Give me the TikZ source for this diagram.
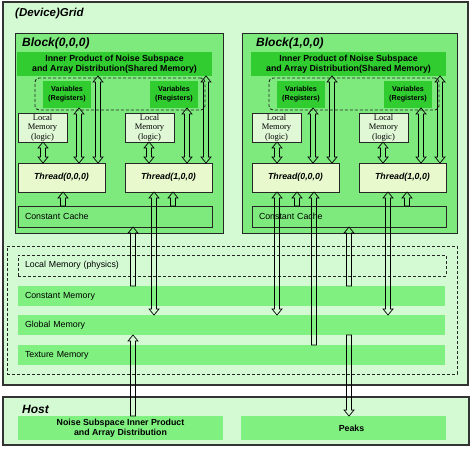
\documentclass[tikz,border=0pt]{standalone}
\usepackage{fontspec}
\setmainfont{Liberation Sans}
\newfontfamily\serifff{Liberation Serif}
\usetikzlibrary{calc}
\definecolor{gridbg}{RGB}{212,250,212}
\definecolor{blockbg}{RGB}{126,234,126}
\definecolor{darkg}{RGB}{48,204,48}
\definecolor{barg}{RGB}{128,240,128}
\definecolor{threadbg}{RGB}{232,250,205}
\definecolor{lmbg}{RGB}{225,248,215}
\newcommand\ArrDbl[3]{%
 \draw[blkarr] let \p1=(#1,0), \p2=(#2), \p3=(#3) in
 (\x1,\y2) -- (\x1+5pt,\y2-6pt) -- (\x1+2.5pt,\y2-6pt) -- (\x1+2.5pt,\y3+6pt) -- (\x1+5pt,\y3+6pt) -- (\x1,\y3)
 -- (\x1-5pt,\y3+6pt) -- (\x1-2.5pt,\y3+6pt) -- (\x1-2.5pt,\y2-6pt) -- (\x1-5pt,\y2-6pt) -- cycle;}
\newcommand\ArrUp[3]{%
 \draw[blkarr] let \p1=(#1,0), \p2=(#2), \p3=(#3) in
 (\x1,\y2) -- (\x1+5pt,\y2-6pt) -- (\x1+2.5pt,\y2-6pt) -- (\x1+2.5pt,\y3) -- (\x1-2.5pt,\y3) -- (\x1-2.5pt,\y2-6pt) -- (\x1-5pt,\y2-6pt) -- cycle;}
\newcommand\ArrDown[3]{%
 \draw[blkarr] let \p1=(#1,0), \p2=(#2), \p3=(#3) in
 (\x1-2.5pt,\y2) -- (\x1+2.5pt,\y2) -- (\x1+2.5pt,\y3+6pt) -- (\x1+5pt,\y3+6pt) -- (\x1,\y3) -- (\x1-5pt,\y3+6pt) -- (\x1-2.5pt,\y3+6pt) -- cycle;}
\begin{document}
\begin{tikzpicture}[x=1pt,y=-1pt,
 box/.style={anchor=north west, inner sep=0pt, outer sep=0pt},
 outerbox/.style={box, draw=black!80, line width=1.3pt, fill=gridbg},
 blockbox/.style={box, draw=black!85, line width=1pt, fill=blockbg},
 darkbox/.style={box, fill=darkg, align=center, font=\bfseries\fontsize{8.8}{10.5}\selectfont},
 varbox/.style={box, fill=darkg, align=center, minimum width=48pt, minimum height=27pt, font=\bfseries\fontsize{7.2}{9}\selectfont},
 lmbox/.style={box, draw=black!85, line width=0.7pt, fill=lmbg, align=center, minimum width=49pt, minimum height=29pt, font=\serifff\fontsize{8.5}{9.5}\selectfont},
 thbox/.style={box, draw=black!85, line width=0.7pt, fill=threadbg, minimum width=87pt, minimum height=29pt, font=\bfseries\itshape\fontsize{8.8}{10}\selectfont},
 ccbox/.style={box, draw=black!85, line width=0.7pt, minimum width=194pt, minimum height=21pt, text width=180pt, inner xsep=7pt, align=left, font=\fontsize{8.8}{10}\selectfont},
 dashbox/.style={box, draw=black!85, line width=0.9pt, dash pattern=on 3pt off 2pt},
 barbox/.style={box, fill=barg, minimum width=427pt, minimum height=20pt, text width=413pt, inner xsep=7pt, align=left, font=\fontsize{8.8}{10}\selectfont},
 title/.style={anchor=west, inner sep=0pt, font=\bfseries\itshape\fontsize{12}{14}\selectfont},
 blkarr/.style={draw=black, line width=0.7pt, line join=miter}]
\useasboundingbox (0,0) rectangle (474,450);
% Grid
\node[outerbox, minimum width=465pt, minimum height=383pt] (grid) at (3,2) {};
\node[title, font=\bfseries\itshape\fontsize{11.5}{13}\selectfont] (gridlbl) at (15,14) {(Device)Grid};
% Block 0
\node[blockbox, minimum width=208pt, minimum height=200pt] (blk0) at (15,33) {};
\node[title] (blk0lbl) at (22,43) {Block(0,0,0)};
\node[darkbox, minimum width=195pt, minimum height=24pt] (sh0) at (17,52) {Inner Product of Noise Subspace\\and Array Distribution(Shared Memory)};
\node[dashbox, rounded corners=4pt, minimum width=170pt, minimum height=32pt] (reg0) at (35,78) {};
\node[varbox] (var00) at (43,81) {Variables\\(Registers)};
\node[varbox] (var01) at (150,81) {Variables\\(Registers)};
\node[lmbox] (lm00) at (18,113) {Local\\Memory\\(logic)};
\node[lmbox] (lm01) at (125,113) {Local\\Memory\\(logic)};
\node[thbox] (th00) at (18,163) {Thread(0,0,0)};
\node[thbox] (th01) at (125,163) {Thread(1,0,0)};
\node[ccbox] (cc0) at (18,206) {Constant Cache};
% Block 1
\node[blockbox, minimum width=215pt, minimum height=200pt] (blk1) at (242,33) {};
\node[title] (blk1lbl) at (256,43) {Block(1,0,0)};
\node[darkbox, minimum width=195pt, minimum height=24pt] (sh1) at (251,52) {Inner Product of Noise Subspace\\and Array Distribution(Shared Memory)};
\node[dashbox, rounded corners=4pt, minimum width=170pt, minimum height=32pt] (reg1) at (269,78) {};
\node[varbox] (var10) at (277,81) {Variables\\(Registers)};
\node[varbox] (var11) at (384,81) {Variables\\(Registers)};
\node[lmbox] (lm10) at (252,113) {Local\\Memory\\(logic)};
\node[lmbox] (lm11) at (359,113) {Local\\Memory\\(logic)};
\node[thbox] (th10) at (252,163) {Thread(0,0,0)};
\node[thbox] (th11) at (359,163) {Thread(1,0,0)};
\node[ccbox] (cc1) at (252,206) {Constant Cache};
% Memory
\node[dashbox, minimum width=450pt, minimum height=128pt] (mem) at (7,246) {};
\node[dashbox, minimum width=428pt, minimum height=21pt, text width=414pt, inner xsep=7pt, align=left, font=\fontsize{8.8}{10}\selectfont] (lmphys) at (18,255) {Local Memory (physics)};
\node[barbox] (cmem) at (18,286) {Constant Memory};
\node[barbox] (gmem) at (18,315) {Global Memory};
\node[barbox] (tmem) at (18,345) {Texture Memory};
% Host
\node[outerbox, minimum width=466pt, minimum height=48pt] (host) at (3,397) {};
\node[title] (hostlbl) at (22,409) {Host};
\node[box, fill=barg, minimum width=205pt, minimum height=24pt, align=center, font=\bfseries\fontsize{8.8}{10.5}\selectfont] (noise) at (18,416) {Noise Subspace Inner Product\\and Array Distribution};
\node[box, fill=barg, minimum width=205pt, minimum height=24pt, font=\bfseries\fontsize{8.8}{10.5}\selectfont] (peaks) at (241,416) {\hspace{16pt}Peaks};
% Arrows block 0
\ArrDbl{43}{lm00.south}{th00.north}
\ArrDbl{149}{lm01.south}{th01.north}
\ArrDbl{79}{var00.south}{th00.north}
\ArrDbl{98}{sh0.south}{th00.north}
\ArrDbl{187}{var01.south}{th01.north}
\ArrDbl{206}{sh0.south}{th01.north}
\ArrUp{63}{th00.south}{cc0.north}
\ArrUp{173}{th01.south}{cc0.north}
\ArrDbl{154}{th01.south}{gmem.north}
\ArrUp{133}{cc0.south}{cmem.north}
\ArrUp{133}{gmem.south}{noise.north}
% Arrows block 1
\ArrDbl{277}{lm10.south}{th10.north}
\ArrDbl{383}{lm11.south}{th11.north}
\ArrDbl{313}{var10.south}{th10.north}
\ArrDbl{332}{sh1.south}{th10.north}
\ArrDbl{421}{var11.south}{th11.north}
\ArrDbl{440}{sh1.south}{th11.north}
\ArrUp{297}{th10.south}{cc1.north}
\ArrUp{407}{th11.south}{cc1.north}
\ArrDbl{277}{th10.south}{gmem.north}
\ArrUp{314}{th10.south}{tmem.north}
\ArrUp{349}{cc1.south}{cmem.north}
\ArrDown{349}{gmem.south}{peaks.north}
\ArrDbl{388}{th11.south}{gmem.north}
\end{tikzpicture}
\end{document}
